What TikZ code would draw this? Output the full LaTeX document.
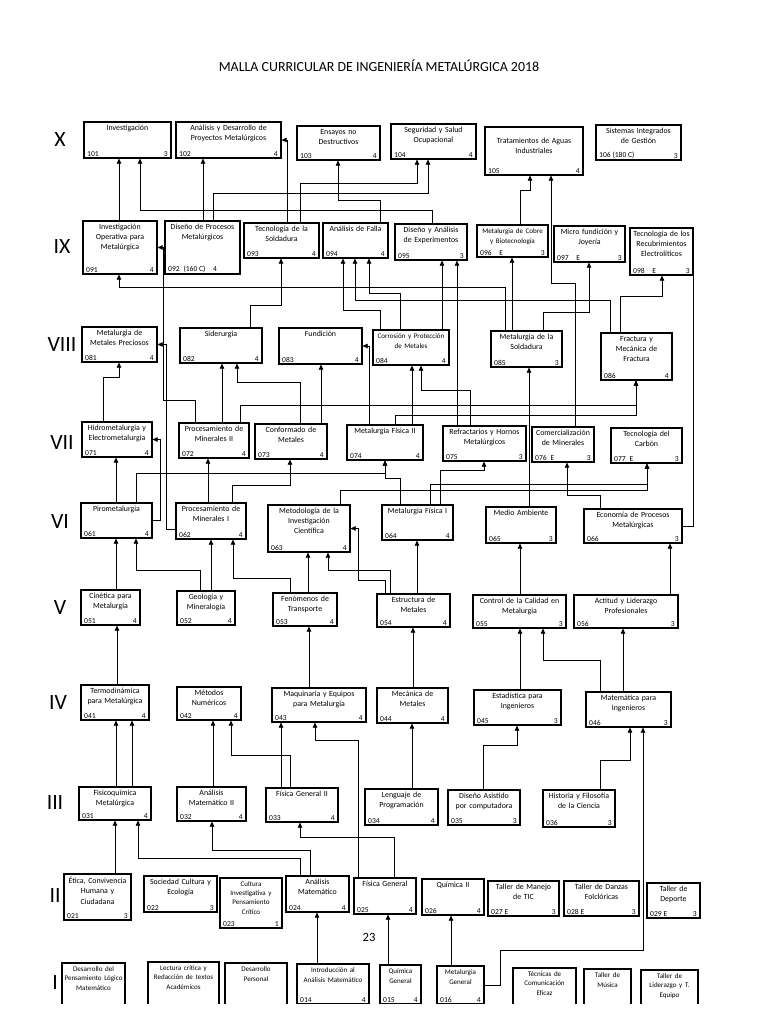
\documentclass[tikz,border=0pt]{standalone}
\usepackage{fontspec}
\setmainfont{Carlito}
\usetikzlibrary{arrows.meta}

% course box: name, x1, y1, x2, y2 (scan pixels), title, code, credits
\newcommand\curso[8]{%
  \pgfmathsetmacro\cursoW{(#4-#2)/4}%
  \pgfmathsetmacro\cursoH{(#5-#3)/4}%
  \pgfmathsetmacro\cursoT{(#4-#2-4)/4}%
  \node[curso,minimum width=\cursoW mm,minimum height=\cursoH mm,
    label={[titulo,text width=\cursoT mm]north:{#6}},
    label={[codigo,anchor=south west]south west:{#7}},
    label={[codigo,anchor=south east]south east:{#8}}]
    (#1) at ({(#2+#4)/2},{(#3+#5)/2}) {};}

\def\chico{\fontsize{5}{6.6}\selectfont}

\begin{document}
\begin{tikzpicture}[x=0.25mm,y=-0.25mm,
  curso/.style={draw,line width=0.8pt,inner sep=0pt},
  titulo/.style={anchor=north,align=center,inner xsep=0pt,inner ysep=2.5pt,
    font=\fontsize{5.6}{7.2}\selectfont},
  codigo/.style={inner xsep=2.5pt,inner ysep=1.2pt,font=\fontsize{5.4}{6}\selectfont},
  nivel/.style={font=\fontsize{15.5}{15.5}\selectfont},
  pre/.style={line width=0.45pt,-{Triangle[length=3.6pt,width=3.2pt]}},
  linea/.style={line width=0.45pt}]

  \useasboundingbox (0,0) rectangle (768,1024);
  \fill[white] (0,0) rectangle (768,1024);
  \clip (0,0) rectangle (768,1003);

  \node[font=\fontsize{9.9}{11}\selectfont] (tit) at (379,66)
    {MALLA CURRICULAR DE INGENIERÍA METALÚRGICA 2018};

  % Levels
  \node[nivel] (nX) at (60,140) {X};
  \node[nivel] (nIX) at (62,247) {IX};
  \node[nivel] (nVIII) at (62,345) {VIII};
  \node[nivel] (nVII) at (62,443) {VII};
  \node[nivel] (nVI) at (60,522) {VI};
  \node[nivel] (nV) at (60,608) {V};
  \node[nivel] (nIV) at (58,703) {IV};
  \node[nivel] (nIII) at (55,803) {III};
  \node[nivel] (nII) at (55,895) {II};
  \node[nivel] (nI) at (55,982) {I};

  % Level X
  \curso{b101}{84}{122}{171}{158}{Investigación}{101}{3}
  \curso{b102}{176}{122}{281}{158}{Análisis y Desarrollo de\\Proyectos Metalúrgicos}{102}{4}
  \curso{b103}{297}{126}{380}{160}{Ensayos no\\Destructivos}{103}{4}
  \curso{b104}{391}{124}{476}{159}{Seguridad y Salud\\Ocupacional}{104}{4}
  \curso{b105}{485}{127}{583}{175}{\\[2pt]Tratamientos de Aguas\\Industriales}{105}{4}
  \curso{b106}{596}{125}{681}{160}{Sistemas Integrados\\de Gestión}{106 (180 C)}{3}

  % Level IX
  \curso{b091}{83}{221}{157}{274}{Investigación\\Operativa para\\Metalúrgica}{091}{4}
  \curso{b092}{165}{221}{240}{274}{Diseño de Procesos\\Metalúrgicos}{092\enspace(160 C)\quad 4}{}
  \curso{b093}{244}{223}{319}{258}{Tecnología de la\\Soldadura}{093}{4}
  \curso{b094}{323}{223}{388}{258}{Análisis de Falla}{094}{4}
  \curso{b095}{395}{224}{467}{260}{Diseño y Análisis\\de Experimentos}{095}{3}
  \curso{b096}{477}{225}{548}{257}{\chico Metalurgia de Cobre\\y Biotecnología}{096\quad E}{3}
  \curso{b097}{554}{226}{625}{262}{Micro fundición y\\Joyería}{097\quad E}{3}
  \curso{b098}{630}{228}{693}{275}{Tecnología de los\\Recubrimientos\\Electrolíticos}{098\quad E}{3}

  % Level VIII
  \curso{b081}{82}{327}{157}{362}{Metalurgia de\\Metales Preciosos}{081}{4}
  \curso{b082}{180}{328}{262}{363}{Siderurgia}{082}{4}
  \curso{b083}{279}{328}{362}{364}{Fundición}{083}{4}
  \curso{b084}{373}{330}{449}{365}{\chico Corrosión y Protección\\de Metales}{084}{4}
  \curso{b085}{491}{331}{562}{367}{Metalurgia de la\\Soldadura}{085}{3}
  \curso{b086}{601}{333}{672}{380}{Fractura y\\Mecánica de\\Fractura}{086}{4}

  % Level VII
  \curso{b071}{82}{422}{152}{457}{Hidrometalurgia y\\Electrometalurgia}{071}{4}
  \curso{b072}{179}{423}{249}{458}{Procesamiento de\\Minerales II}{072}{4}
  \curso{b073}{255}{424}{327}{459}{Conformado de\\Metales}{073}{4}
  \curso{b074}{347}{425}{423}{460}{Metalurgia Física II}{074}{4}
  \curso{b075}{443}{426}{526}{461}{Refractarios y Hornos\\Metalúrgicos}{075}{3}
  \curso{b076}{532}{427}{594}{462}{Comercialización\\de Minerales}{076\enspace E}{3}
  \curso{b077}{611}{428}{682}{463}{Tecnología del\\Carbón}{077\enspace E}{3}

  % Level VI
  \curso{b061}{81}{503}{152}{538}{Pirometalurgia}{061}{4}
  \curso{b062}{176}{503}{246}{539}{Procesamiento de\\Minerales I}{062}{4}
  \curso{b063}{268}{505}{350}{552}{Metodología de la\\Investigación\\Científica}{063}{4}
  \curso{b064}{382}{505}{453}{540}{Metalurgia Física I}{064}{4}
  \curso{b065}{486}{507}{556}{543}{Medio Ambiente}{065}{3}
  \curso{b066}{584}{509}{682}{543}{Economía de Procesos\\Metalúrgicas}{066}{3}

  % Level V
  \curso{b051}{81}{590}{140}{625}{Cinética para\\Metalurgia}{051}{4}
  \curso{b052}{177}{591}{235}{625}{Geología y\\Mineralogía}{052}{4}
  \curso{b053}{273}{593}{337}{626}{Fenómenos de\\Transporte}{053}{4}
  \curso{b054}{377}{594}{450}{627}{Estructura de\\Metales}{054}{4}
  \curso{b055}{473}{595}{566}{628}{Control de la Calidad en\\Metalurgia}{055}{3}
  \curso{b056}{574}{595}{678}{628}{Actitud y Liderazgo\\Profesionales}{056}{3}

  % Level IV
  \curso{b041}{81}{685}{149}{720}{Termodinámica\\para Metalúrgica}{041}{4}
  \curso{b042}{177}{687}{241}{720}{Métodos\\Numéricos}{042}{4}
  \curso{b043}{272}{688}{366}{722}{Maquinaria y Equipos\\para Metalurgia}{043}{4}
  \curso{b044}{377}{688}{448}{723}{Mecánica de\\Metales}{044}{4}
  \curso{b045}{474}{690}{561}{725}{Estadística para\\Ingenieros}{045}{3}
  \curso{b046}{586}{692}{671}{727}{Matemática para\\Ingenieros}{046}{3}

  % Level III
  \curso{b031}{79}{787}{151}{820}{Fisicoquímica\\Metalúrgica}{031}{4}
  \curso{b032}{177}{787}{246}{821}{Análisis\\Matemático II}{032}{4}
  \curso{b033}{266}{788}{338}{822}{Física General II}{033}{4}
  \curso{b034}{365}{789}{438}{825}{Lenguaje de\\Programación}{034}{4}
  \curso{b035}{448}{790}{520}{825}{Diseño Asistido\\por computadora}{035}{3}
  \curso{b036}{543}{790}{615}{827}{Historia y Filosofía\\de la Ciencia}{036}{3}

  % Level II
  \curso{b021}{64}{874}{131}{920}{Ética, Convivencia\\Humana y\\Ciudadana}{021}{3}
  \curso{b022}{144}{876}{217}{912}{Sociedad Cultura y\\Ecología}{022}{3}
  \curso{b023}{220}{878}{282}{928}{\chico Cultura\\Investigativa y\\Pensamiento\\Crítico}{023}{1}
  \curso{b024}{286}{876}{349}{912}{Análisis\\Matemático}{024}{4}
  \curso{b025}{354}{878}{416}{914}{Física General}{025}{4}
  \curso{b026}{422}{879}{484}{915}{Química II}{026}{4}
  \curso{b027}{488}{881}{559}{916}{Taller de Manejo\\de TIC}{027 E}{3}
  \curso{b028}{564}{881}{639}{916}{Taller de Danzas\\Folclóricas}{028 E}{3}
  \curso{b029}{647}{883}{700}{918}{Taller de\\Deporte}{029 E}{3}

  % Level I (cut by the page)
  \curso{b011}{62}{963}{125}{1012}{\chico Desarrollo del\\Pensamiento Lógico\\Matemático}{}{}
  \curso{b012}{148}{962}{219}{1012}{\chico Lectura crítica y\\Redacción de textos\\Académicos}{}{}
  \curso{b013}{225}{963}{287}{1012}{\chico Desarrollo\\Personal}{}{}
  \curso{b014}{297}{964}{369}{1004}{\chico Introducción al\\Análisis Matemático}{014}{4}
  \curso{b015}{380}{965}{421}{1004}{\chico Química\\General}{015}{4}
  \curso{b016}{437}{966}{484}{1004}{\chico Metalurgia\\General}{016}{4}
  \curso{b017}{513}{968}{576}{1012}{\chico Técnicas de\\Comunicación\\Eficaz}{}{}
  \curso{b018}{584}{969}{631}{1012}{\chico Taller de\\Música}{}{}
  \curso{b019}{641}{970}{698}{1012}{\chico Taller de\\Liderazgo y T.\\Equipo}{}{}

  \node[font=\fontsize{9}{9}\selectfont] (pag) at (369,937) {23};

  % Straight prerequisites
  \foreach \de/\a/\xx in {b091/b101/119, b092/b102/203,
      b084/b095/442, b075/b095/457, b085/b096/512,
      b072/b082/222, b073/b083/321, b074/b084/412, b065/b085/529,
      b061/b071/116, b062/b072/208,
      b051/b061/116, b052/b062/211, b053/b063/308, b054/b064/417,
      b055/b065/520, b056/b066/670,
      b041/b051/117, b043/b053/309, b044/b054/413, b045/b055/520, b046/b056/623,
      b031/b041/116, b031/b041/132, b032/b042/213, b033/b043/281, b034/b044/412,
      b021/b031/115, b014/b024/317, b015/b025/388, b016/b026/451}
    \draw[pre] (\de.north -| \xx,0) -- (\a.south -| \xx,0);

  % Elbow prerequisites: from, x, to, x, height of the run
  \foreach \de/\xa/\a/\xb/\ym in {b095/432/b101/140/210, b094/380/b103/338/200,
      b092/213/b104/428/193, b093/300/b104/417/183, b096/520/b105/530/190,
      b085/505/b091/119/287, b082/250/b093/281/305, b086/610/b094/355/300,
      b084/380/b094/343/310, b084/400/b094/369/293, b085/543/b097/589/312,
      b086/620/b098/662/296,
      b071/103/b081/119/377, b073/300/b082/237/382, b075/470/b084/421/390,
      b074/395/b086/636/415, b072/240/b086/636/405,
      b062/232/b073/290/485, b064/400/b074/385/478, b064/440/b075/484/470,
      b066/600/b076/567/495, b064/430/b077/647/484, b061/136/b074/385/473,
      b063/340/b077/647/490,
      b052/200/b061/136/570, b053/290/b062/233/578, b054/390/b063/328/570,
      b046/600/b055/543/660,
      b033/290/b042/231/755, b025/358/b043/315/740, b035/483/b045/517/745,
      b036/600/b046/630/760,
      b024/300/b031/138/858, b024/310/b032/212/850, b025/394/b033/300/837}
    \draw[pre] (\de.north -| \xa,0) -- (\xa,\ym) -- (\xb,\ym) -- (\a.south -| \xb,0);

  % Side entries
  \draw[pre] (b093.north -| 287,0) |- (b102.east);
  \draw[pre] (b072.north -| 195,0) |- (163,400) |- (b091.east);
  \draw[pre] ([yshift=-2mm]b062.west) -- ++(-9,0) |- (b081.east);
  \draw[pre] (b061.east) -- ++(8,0) |- (b071.east);
  \draw[pre] (b054.north -| 385,0) |- (358,580) |- (b063.east);
  \draw[pre] (b074.north -| 369,0) |- (b083.east);

  % Long runs
  \draw[pre] (b076.north -| 575,0) -- (575,283) -- (551,283) -- (b105.south -| 551,0);
  \draw[pre] (b016.east) -- ++(16,0) |- (643,950) -- (b046.south -| 643,0);
  \draw[linea] (b066.east) -| (b098.south east);

\end{tikzpicture}
\end{document}
